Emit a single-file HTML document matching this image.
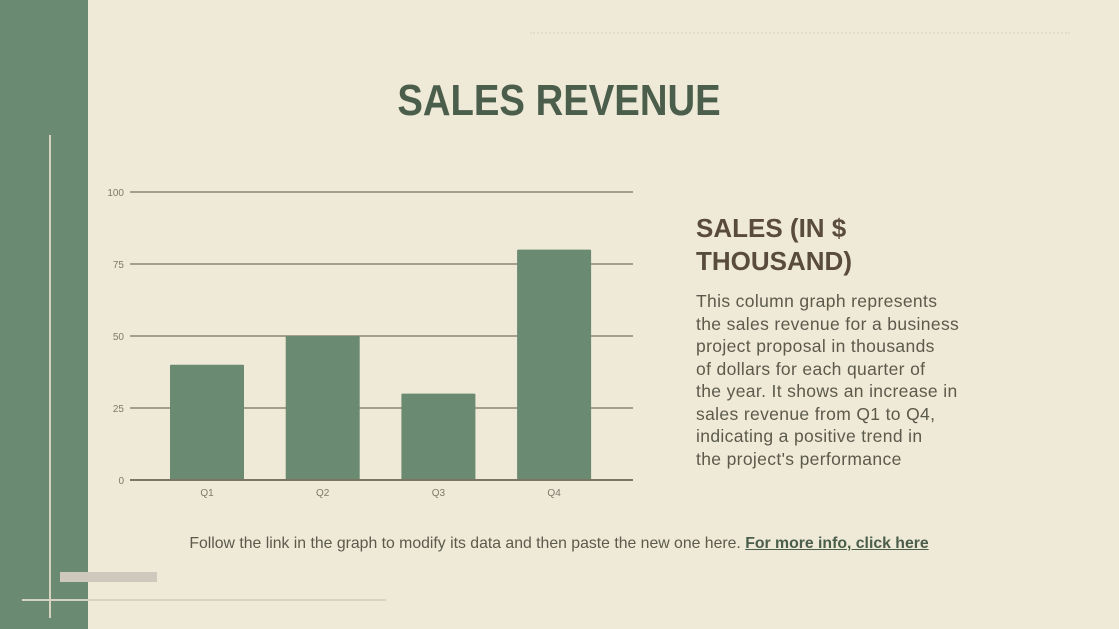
<!DOCTYPE html>
<html><head><meta charset="utf-8"><style>
html,body{margin:0;padding:0}
body{width:1119px;height:629px;position:relative;overflow:hidden;background:#efe9d7;font-family:"Liberation Sans",sans-serif}
.abs{position:absolute}
</style></head><body>
<div class="abs" style="left:0;top:0;width:88px;height:629px;background:#6b8a72"></div>
<div class="abs" style="left:49px;top:135px;width:2px;height:483px;background:#d6d3c2"></div>
<div class="abs" style="left:22px;top:599px;width:364px;height:1.5px;background:#d6d3c2"></div>
<div class="abs" style="left:60px;top:572px;width:97px;height:10px;background:#cfc8bd"></div>
<div class="abs" style="left:530px;top:32px;width:540px;border-top:2px dotted #e2dccb"></div>
<div class="abs" style="left:88px;width:942px;top:76px;text-align:center;font-size:44px;font-weight:bold;color:#4a5e4b;transform:scaleX(0.87);transform-origin:471px 0">SALES REVENUE</div>
<svg class="abs" style="left:0;top:0" width="700" height="520" id="chart"></svg>
<div class="abs" style="left:696px;top:212px;font-size:26px;line-height:33px;font-weight:bold;color:#5a4b3f">SALES (IN $<br>THOUSAND)</div>
<div class="abs" style="left:696px;top:290px;font-size:17.5px;line-height:22.5px;letter-spacing:0.35px;color:#5b5a4c;white-space:nowrap">This column graph represents<br>the sales revenue for a business<br>project proposal in thousands<br>of dollars for each quarter of<br>the year. It shows an increase in<br>sales revenue from Q1 to Q4,<br>indicating a positive trend in<br>the project's performance</div>
<div class="abs" style="left:88px;width:942px;top:535px;text-align:center;font-size:15.8px;color:#5b5a4c;white-space:nowrap">Follow the link in the graph to modify its data and then paste the new one here. <span style="font-weight:bold;text-decoration:underline;color:#4a5e4b">For more info, click here</span></div>
<script>
const categories=["Q1","Q2","Q3","Q4"];
const values=[40,50,30,80];
const ticks=[0,25,50,75,100];
const svg=document.getElementById('chart');
const NS='http://www.w3.org/2000/svg';
const x0=130,x1=633,yTop=192,yBot=480,yMax=100;
const y=v=>yBot-(v/yMax)*(yBot-yTop);
const step=115.7,first=207,bw=74;
const xc=i=>first+i*step;
ticks.forEach(t=>{
  const l=document.createElementNS(NS,'line');
  l.setAttribute('x1',x0);l.setAttribute('x2',x1);l.setAttribute('y1',y(t));l.setAttribute('y2',y(t));
  l.setAttribute('stroke','#8f8670');l.setAttribute('stroke-width',t===0?2:1.5);
  
  
  svg.appendChild(l);
  const tx=document.createElementNS(NS,'text');
  tx.setAttribute('x',124);tx.setAttribute('y',y(t)+4);tx.setAttribute('text-anchor','end');
  tx.setAttribute('font-size','10');tx.setAttribute('fill','#7d7a6c');tx.setAttribute('font-family','Liberation Sans, sans-serif');
  tx.textContent=t;
  
  
  svg.appendChild(tx);
});
categories.forEach((c,i)=>{
  const r=document.createElementNS(NS,'rect');
  r.setAttribute('x',xc(i)-bw/2);r.setAttribute('y',y(values[i]));
  r.setAttribute('width',bw);r.setAttribute('height',yBot-y(values[i]));
  r.setAttribute('fill','#6b8a72');r.setAttribute('rx',1);
  
  
  svg.appendChild(r);
  const tx=document.createElementNS(NS,'text');
  tx.setAttribute('x',xc(i));tx.setAttribute('y',496);tx.setAttribute('text-anchor','middle');
  tx.setAttribute('font-size','10');tx.setAttribute('fill','#7d7a6c');tx.setAttribute('font-family','Liberation Sans, sans-serif');
  tx.textContent=c;
  
  
  svg.appendChild(tx);
});
const base=document.createElementNS(NS,'line');
base.setAttribute('x1',x0);base.setAttribute('x2',x1);base.setAttribute('y1',yBot);base.setAttribute('y2',yBot);
base.setAttribute('stroke','#7d7563');base.setAttribute('stroke-width',2);


svg.appendChild(base);
</script>
</body></html>
